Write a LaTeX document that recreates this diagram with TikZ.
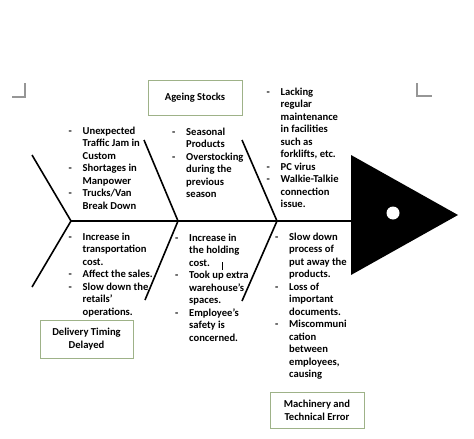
\documentclass[tikz,border=0pt]{standalone}
\usepackage{fontspec}
\setmainfont{Carlito}
\usepackage{array}
\definecolor{boxgreen}{RGB}{158,178,136}
\definecolor{markgray}{RGB}{150,150,150}
\newcommand{\blocktext}[1]{{\fontsize{10.6}{12.5}\selectfont\bfseries
  \begin{tabular}{@{}>{\raggedright\arraybackslash}p{14pt}@{}l@{}}#1\end{tabular}}}
\tikzset{
  bone/.style={line width=1.6pt},
  spine/.style={line width=2pt},
  catbox/.style={draw=boxgreen, line width=1pt, fill=white, align=center,
    font=\fontsize{10.6}{12.8}\selectfont\bfseries, inner sep=0pt},
  txt/.style={anchor=north west, inner sep=0pt},
  cornermark/.style={draw=markgray, line width=1.2pt}
}
\begin{document}
\begin{tikzpicture}[x=1pt,y=-1pt]
\useasboundingbox (0,0) rectangle (474,439);
% corner marks
\draw[cornermark] (12,97) -- (25,97) -- (25,83);
\draw[cornermark] (417,83) -- (417,96) -- (432,96);
% spine and head
\coordinate (tail) at (71,221);
\coordinate (j2) at (178,221);
\coordinate (j3) at (277,221);
\node[draw=none, inner sep=0pt] (headjoin) at (351,221) {};
\draw[spine] (tail) -- (headjoin.center);
\fill[black] (351,155) -- (458,215) -- (351,275) -- cycle;
\node[circle, fill=white, minimum size=13pt, inner sep=0pt] (eye) at (393,213) {};
% upper bones
\coordinate (u1) at (32,155);
\coordinate (u2) at (144,140);
\coordinate (u3) at (242,140);
\draw[bone] (u1) -- (tail);
\draw[bone] (u2) -- (j2);
\draw[bone] (u3) -- (j3);
% lower bones
\coordinate (l1) at (32,287);
\coordinate (l2) at (145,300);
\coordinate (l3) at (242,301);
\draw[bone] (tail) -- (l1);
\draw[bone] (j2) -- (l2);
\draw[bone] (j3) -- (l3);
% category boxes
\node[catbox, minimum width=94pt, minimum height=35pt] (ageing) at (195,97.5) {Ageing Stocks};
\node[catbox, minimum width=93pt, minimum height=38pt] (delivery) at (86.5,339) {Delivery Timing\\Delayed};
\node[catbox, minimum width=94pt, minimum height=36pt] (machinery) at (317,410) {Machinery and\\Technical Error};
% text blocks
\node[txt] (t1) at (68.5,125.5) {\blocktext{- & Unexpected\\ & Traffic Jam in\\ & Custom\\- & Shortages in\\ & Manpower\\- & Trucks/Van\\ & Break Down}};
\node[txt] (t2) at (172,126.3) {\blocktext{- & Seasonal\\ & Products\\- & Overstocking\\ & during the\\ & previous\\ & season}};
\node[txt] (t3) at (266.5,86.3) {\blocktext{- & Lacking\\ & regular\\ & maintenance\\ & in facilities\\ & such as\\ & forklifts, etc.\\- & PC virus\\- & Walkie-Talkie\\ & connection\\ & issue.}};
\node[txt] (t4) at (68.5,231.3) {\blocktext{- & Increase in\\ & transportation\\ & cost.\\- & Affect the sales.\\- & Slow down the\\ & retails'\\ & operations.}};
\node[txt] (t5) at (175,232.3) {\blocktext{- & Increase in\\ & the holding\\ & cost.\\- & Took up extra\\ & warehouse's\\ & spaces.\\- & Employee's\\ & safety is\\ & concerned.}};
\node[txt] (t6) at (275,231.3) {\blocktext{- & Slow down\\ & process of\\ & put away the\\ & products.\\- & Loss of\\ & important\\ & documents.\\- & Miscommuni\\ & cation\\ & between\\ & employees,\\ & causing}};
% cursor mark
\draw[line width=0.8pt] (222,262) -- (222,270);
\end{tikzpicture}
\end{document}
